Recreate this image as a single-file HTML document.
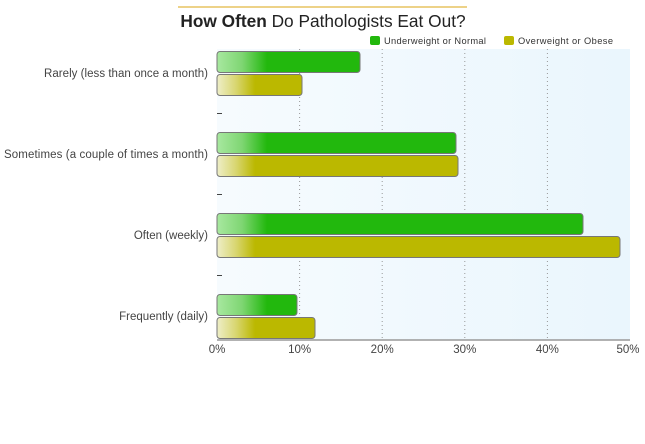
<!DOCTYPE html><html><head><style>body{margin:0;background:#fff;width:645px;height:439px;overflow:hidden}</style></head><body>
<svg width="645" height="439" font-family="Liberation Sans, sans-serif">
<defs>
<linearGradient id="g" gradientUnits="userSpaceOnUse" x1="217" x2="267"><stop offset="0" stop-color="#a8e8a0"/><stop offset="0.5" stop-color="#7fd673"/><stop offset="1" stop-color="#22b80d"/></linearGradient>
<linearGradient id="o" gradientUnits="userSpaceOnUse" x1="217" x2="255"><stop offset="0" stop-color="#eeeec8"/><stop offset="0.5" stop-color="#d8d670"/><stop offset="1" stop-color="#bbb800"/></linearGradient>
<linearGradient id="bg" x1="0" x2="1"><stop offset="0" stop-color="#f6fbfe"/><stop offset="1" stop-color="#eaf6fd"/></linearGradient>
</defs>
<line x1="178" y1="7" x2="467" y2="7" stroke="#e2b640" stroke-width="1.3"/>
<text x="323" y="27" font-size="17.3" text-anchor="middle" fill="#222"><tspan font-weight="bold">How Often</tspan> Do Pathologists Eat Out?</text>
<rect x="370" y="36" width="10" height="9" rx="2" fill="#22b80d"/><text x="384" y="44" font-size="9.3" fill="#333" textLength="102">Underweight or Normal</text>
<rect x="504" y="36" width="10" height="9" rx="2" fill="#bbb800"/><text x="518" y="44" font-size="9.3" fill="#333" textLength="95">Overweight or Obese</text>
<rect x="217" y="49" width="413" height="291" fill="url(#bg)"/>
<g stroke="#999" stroke-dasharray="1,3"><line x1="299.6" y1="49" x2="299.6" y2="340"/><line x1="382.2" y1="49" x2="382.2" y2="340"/><line x1="464.8" y1="49" x2="464.8" y2="340"/><line x1="547.4" y1="49" x2="547.4" y2="340"/></g>
<g stroke="#777" stroke-width="1">
<rect x="217" y="51.5" width="143" height="21" rx="3" fill="url(#g)"/>
<rect x="217" y="74.5" width="85" height="21" rx="3" fill="url(#o)"/>
<rect x="217" y="132.5" width="239" height="21" rx="3" fill="url(#g)"/>
<rect x="217" y="155.5" width="241" height="21" rx="3" fill="url(#o)"/>
<rect x="217" y="213.5" width="366" height="21" rx="3" fill="url(#g)"/>
<rect x="217" y="236.5" width="403" height="21" rx="3" fill="url(#o)"/>
<rect x="217" y="294.5" width="80" height="21" rx="3" fill="url(#g)"/>
<rect x="217" y="317.5" width="98" height="21" rx="3" fill="url(#o)"/>
</g>
<line x1="217" y1="340" x2="630" y2="340" stroke="#999" stroke-width="1.5"/>
<g stroke="#444"><line x1="217" y1="113.5" x2="222" y2="113.5"/><line x1="217" y1="194.5" x2="222" y2="194.5"/><line x1="217" y1="275.5" x2="222" y2="275.5"/></g>
<g font-size="11.5" fill="#444" text-anchor="end">
<text x="208" y="77" textLength="164">Rarely (less than once a month)</text>
<text x="208" y="158" textLength="204">Sometimes (a couple of times a month)</text>
<text x="208" y="239">Often (weekly)</text>
<text x="208" y="320">Frequently (daily)</text>
</g>
<g font-size="11.5" fill="#444" text-anchor="middle">
<text x="217" y="353">0%</text><text x="299.6" y="353">10%</text><text x="382.2" y="353">20%</text><text x="464.8" y="353">30%</text><text x="547.4" y="353">40%</text><text x="628" y="353">50%</text>
</g>
</svg></body></html>
